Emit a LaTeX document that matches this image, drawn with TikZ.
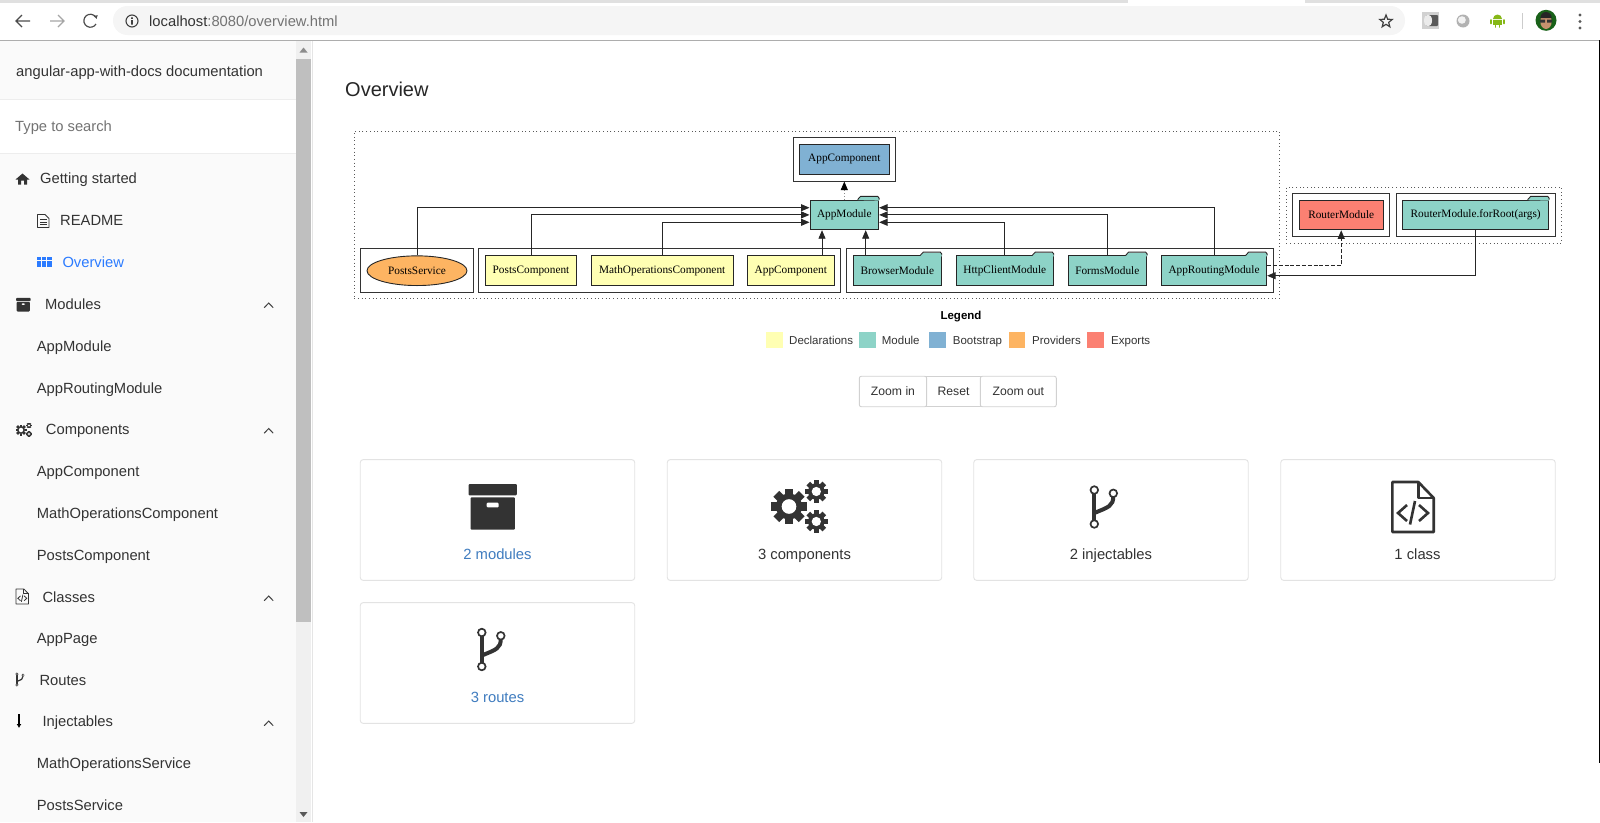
\documentclass[tikz,border=0pt]{standalone}
\usepackage{fontspec}
\usepackage{tikz}
\usetikzlibrary{arrows.meta,positioning,fit,shapes.geometric}
\setmainfont{Liberation Sans}
\newfontfamily\graphfont{Liberation Serif}
\definecolor{declcol}{HTML}{FFFFB3}
\definecolor{modcol}{HTML}{8DD3C7}
\definecolor{bootcol}{HTML}{80B1D3}
\definecolor{provcol}{HTML}{FDB462}
\definecolor{expcol}{HTML}{FB8072}
\definecolor{inkcol}{HTML}{333333}
\definecolor{linkcol}{HTML}{3F7CBF}
\definecolor{activecol}{HTML}{2B7BFF}
\definecolor{cardline}{HTML}{E3E3E3}
\definecolor{droidcol}{HTML}{86B817}
\definecolor{skincol}{HTML}{C8926E}
\tikzset{
	graphnode/.style={draw=black!85,line width=.9pt,inner sep=0pt,minimum height=29.7pt,font=\graphfont\fontsize{11.3}{13}\selectfont},
	declnode/.style={graphnode,fill=declcol},
	modnode/.style={graphnode,fill=modcol},
	cluster/.style={draw=black!80,line width=.9pt,inner xsep=6pt,inner ysep=6.6pt},
	outercluster/.style={draw=black!65,line width=.9pt,dash pattern=on 1pt off 2.7pt,inner xsep=6pt,inner ysep=5.6pt},
	swatch/.style={minimum size=16.5pt,inner sep=0pt},
	legendtext/.style={anchor=west,inner sep=0pt,text height=10.6pt,text depth=2pt,text=inkcol,font=\fontsize{11.5}{13}\selectfont},
	navitem/.style={anchor=west,inner sep=0pt,text height=13pt,text depth=2.6pt,text=inkcol,font=\fontsize{14.75}{17}\selectfont},
	zoombtn/.style={draw=black!18,line width=.9pt,minimum height=30.5pt,inner sep=0pt,text=inkcol,font=\fontsize{12.2}{14}\selectfont},
	card/.style={draw=cardline,line width=.9pt,rounded corners=3pt,minimum width=274.5pt,minimum height=120.8pt,inner sep=0pt},
	cardtext/.style={inner sep=0pt,text height=13pt,text depth=2.6pt,text=inkcol,font=\fontsize{14.8}{17}\selectfont},
	elbow/.style={to path={(\tikztostart) |- (\tikztotarget)}},
	sideways/.style={to path={(\tikztostart) -| (\tikztotarget)}},
	dashededge/.style={dash pattern=on 4pt off 1.8pt},
	dottededge/.style={dash pattern=on 1pt off 2pt,color=black!45,-{Triangle[length=8.5pt,width=7pt,black]}},
	boxicon/.pic={
		\fill[rounded corners=1pt] (-24.2,-23) rectangle (24.2,-11.7);
		\fill[rounded corners=1pt] (-22.2,-9.7) rectangle (22.2,22.7);
		\fill[white,rounded corners=1pt] (-6,-4.3) rectangle (6,.3);
	},
	gearicon/.pic={
		\foreach \a in {0,45,...,315}
			\fill[rotate=\a] (-2.5,-11) rectangle (2.5,-7);
		\fill circle (8);
		\fill[white] circle (4.5);
	},
	branchicon/.pic={
		\draw (-9.5,-15) -- (-9.5,15);
		\draw (9.5,-11) .. controls (9.5,-1) and (5,0) .. (-9.5,6);
		\draw[fill=white,line width=.65\pgflinewidth] (-9.5,-17) circle (3.8);
		\draw[fill=white,line width=.65\pgflinewidth] (9.5,-13.7) circle (3.8);
		\draw[fill=white,line width=.65\pgflinewidth] (-9.5,17) circle (3.8);
	},
	fileicon/.pic={
		\draw[line join=round] (-20.7,-25) -- (5.3,-25) -- (20.7,-9) -- (20.7,25) -- (-20.7,25) -- cycle;
		\draw[line join=round] (5.3,-25) -- (5.3,-9) -- (20.7,-9);
		\draw (-6,-2) -- (-15,6) -- (-6,14);
		\draw (6,-2) -- (15,6) -- (6,14);
		\draw (2,-6) -- (-3,17.5);
	},
	chevron/.pic={\draw[black!75,line width=1pt] (-4.5,2.7) -- (0,-2) -- (4.5,2.7);},
}
\begin{document}
\begin{tikzpicture}[x=1pt,y=-1pt,node distance=120pt,on grid,>={Triangle[length=8.5pt,width=7pt]}]
	\useasboundingbox (0,0) rectangle (1600,822);

	% browser bar
	\fill[white] (0,0) rectangle (1600,822);
	\fill[black!12] (0,0) rectangle (1128,2.5);
	\fill[black!12] (1305,0) rectangle (1600,2.5);
	\fill[black!4] (113,6) [rounded corners=14.5pt] rectangle (1405,35);
	\draw[black!32,line width=.9pt] (0,40.5) -- (1600,40.5);
	\draw[black,line width=1.4pt] (1599.3,40) -- (1599.3,763);
	\draw[black!70,line width=1.2pt] (30,21) -- (16,21) (22,15) -- (16,21) -- (22,27);
	\draw[black!35,line width=1.2pt] (50,21) -- (64,21) (58,15) -- (64,21) -- (58,27);
	\draw[black!70,line width=1.2pt,-{Latex[length=3.5pt,width=4.5pt]}] (96,24) arc (30:345:6.5);
	\draw[black!75,line width=1.1pt] (132,21) circle (6);
	\fill[black!75] (131.2,20) rectangle (132.8,24.5) (131.2,17.3) rectangle (132.8,18.8);
	\node[anchor=west,inner sep=0pt,font=\fontsize{14.75}{17}\selectfont] (urltext) at (149,21) {\textcolor{inkcol}{localhost}\textcolor{black!55}{:8080/overview.html}};
	\node[star,star points=5,star point ratio=2.3,draw=black!75,line width=1.2pt,inner sep=0pt,minimum size=13pt] (staricon) at (1386,21.5) {};
	\fill[black!18] (1422,12) rectangle (1439,29);
	\fill[black!65,rounded corners=1pt] (1426,15) rectangle (1438,26);
	\fill[black!8] (1428,20.5) ellipse (4 and 6);
	\fill[black!30] (1463,21) circle (6.5);
	\fill[black!5] (1462,20) circle (3.8);
	\fill[black!5] (1461,20) circle (3);
	\fill[droidcol] (1493,20) rectangle (1502,25);
	\fill[droidcol] (1493,19) arc (180:360:4.5) -- cycle;
	\draw[droidcol,line width=1.7pt,line cap=round] (1491.3,20) -- (1491.3,23.5) (1503.7,20) -- (1503.7,23.5) (1495.5,25) -- (1495.5,27) (1499.5,25) -- (1499.5,27);
	\draw[black!20,line width=.9pt] (1522.5,13) -- (1522.5,29);
	\fill[green!35!black!80!gray] (1546,20.3) circle (10.5);
	\fill[skincol] (1546,21.5) ellipse (5.7 and 7.5);
	\fill[black!85] (1540.3,18) arc (180:360:5.7 and 6) -- cycle;
	\fill[black!80] (1540,19.5) rectangle (1545,22.5) (1547,19.5) rectangle (1552,22.5);
	\foreach \y in {15,21.5,28}
		\fill[black!65] (1580,\y) circle (1.7);

	% sidebar
	\fill[black!2] (0,41) rectangle (311,822);
	\fill[white] (0,100) rectangle (296,153);
	\draw[black!7,line width=.9pt] (0,99.5) -- (296,99.5) (0,153) -- (296,153);
	\fill[black!6] (296,41) rectangle (311,822);
	\fill[black!25] (296.3,58.5) rectangle (310.7,622);
	\draw[black!10,line width=.9pt] (312,41) -- (312,822);
	\fill[black!45] (303.5,47.5) -- (299.5,52.5) -- (307.5,52.5) -- cycle;
	\fill[black!65] (303.5,817) -- (299.5,812) -- (307.5,812) -- cycle;
	\node[navitem] (apptitle) at (16,71) {angular-app-with-docs documentation};
	\node[navitem,text=black!55] (searchbox) at (15,126.5) {Type to search};
	\node[navitem] (started) at (40,178.6) {Getting started};
	\node[navitem] (readme) at (60,220.4) {README};
	\node[navitem,text=activecol] (overview) at (62.3,262.2) {Overview};
	\node[navitem] (modules) at (45,304) {Modules};
	\node[navitem] (navappmod) at (36.7,346) {AppModule};
	\node[navitem] (navrouting) at (36.7,388) {AppRoutingModule};
	\node[navitem] (components) at (45.7,429.6) {Components};
	\node[navitem] (navappcomp) at (36.7,471.4) {AppComponent};
	\node[navitem] (navmathcomp) at (36.7,513.2) {MathOperationsComponent};
	\node[navitem] (navpostscomp) at (36.7,555) {PostsComponent};
	\node[navitem] (classes) at (42.3,597) {Classes};
	\node[navitem] (navapppage) at (36.7,638) {AppPage};
	\node[navitem] (routes) at (39.3,680) {Routes};
	\node[navitem] (injectables) at (42.3,721.4) {Injectables};
	\node[navitem] (navmathserv) at (36.7,763.2) {MathOperationsService};
	\node[navitem] (navpostsserv) at (36.7,805) {PostsService};
	\foreach \y in {305,430.5,598,723}
		\pic at (268.7,\y) {chevron};

	% sidebar icons
	\fill[inkcol] (15.5,179.5) -- (22.5,173.5) -- (29.5,179.5) -- (27,179.5) -- (27,184.5) -- (24,184.5) -- (24,180.5) -- (21,180.5) -- (21,184.5) -- (18,184.5) -- (18,179.5) -- cycle;
	\draw[inkcol,line width=.8pt,line join=round] (37.5,214.5) -- (45,214.5) -- (49,218.5) -- (49,227.5) -- (37.5,227.5) -- cycle;
	\draw[inkcol,line width=.7pt] (40,219.5) -- (46.5,219.5) (40,222) -- (46.5,222) (40,224.5) -- (46.5,224.5);
	\foreach \i in {0,1,2}
		\foreach \j in {0,1,2}
			\fill[activecol] (37+\i*5.2,257+\j*3.6) rectangle ++(4.2,2.9);
	\pic[inkcol,scale=.3] at (23.3,304.7) {boxicon};
	\pic[inkcol,scale=.5] at (21,430) {gearicon};
	\pic[inkcol,scale=.25] at (29,425.5) {gearicon};
	\pic[inkcol,scale=.25] at (29,434) {gearicon};
	\pic[inkcol,scale=.3,line width=.8pt] at (22.3,596.5) {fileicon};
	\pic[inkcol,scale=.32,line width=1.2pt] at (20,679.5) {branchicon};
	\draw[black,line width=1.2pt,-{Latex[length=4pt,width=5pt]}] (19,714) -- (19,728);

	% page heading
	\node[anchor=west,inner sep=0pt,text=black!85,font=\fontsize{20}{24}\selectfont] (pagetitle) at (345,89) {Overview};

	% graph nodes
	\node[graphnode,fill=provcol,ellipse,minimum width=100pt] (postsservice) at (417,270.7) {PostsService};
	\node[declnode,minimum width=91.4pt] (postscomp) [right=114pt of postsservice] {PostsComponent};
	\node[declnode,minimum width=142.3pt] (mathcomp) [right=131.2pt of postscomp] {MathOperationsComponent};
	\node[declnode,minimum width=87pt] (appcomp) [right=128.6pt of mathcomp] {AppComponent};
	\node[modnode,minimum width=88pt] (browser) [right=106.5pt of appcomp] {BrowserModule};
	\node[modnode,minimum width=97pt] (httpclient) [right=107.5pt of browser] {HttpClientModule};
	\node[modnode,minimum width=78.7pt] (forms) [right=102.5pt of httpclient] {FormsModule};
	\node[modnode,minimum width=105.4pt] (approuting) [right=106.7pt of forms] {AppRoutingModule};
	\node[modnode,minimum width=68.7pt] (appmodule) at (844.3,214.9) {AppModule};
	\node[graphnode,fill=bootcol,minimum width=89.7pt] (bootcomp) [above=55.7pt of appmodule] {AppComponent};
	\node[graphnode,fill=expcol,minimum width=83.7pt] (routermod) at (1341.2,215) {RouterModule};
	\node[modnode,minimum width=146pt] (forroot) [right=134.5pt of routermod] {RouterModule.forRoot(args)};

	% folder tabs
	\foreach \n in {appmodule,browser,httpclient,forms,approuting,forroot} {
		\fill[modcol] ([xshift=-21.5pt,yshift=-.5pt]\n.north east) -- ++(3,-3) -- ++(17,0) -- ++(1.5,1.5) -- ++(0,2) -- cycle;
		\draw[black!85,line width=.9pt] ([xshift=-21.5pt]\n.north east) -- ++(3,-3.3) -- ++(17,0) -- ++(1.5,1.8) -- (\n.north east);
	}

	% clusters
	\node[cluster,fit=(postsservice)] (provcluster) {};
	\node[cluster,fit=(postscomp)(mathcomp)(appcomp)] (declcluster) {};
	\node[cluster,fit=(browser)(httpclient)(forms)(approuting)] (modcluster) {};
	\node[cluster,fit=(bootcomp)] (bootcluster) {};
	\node[cluster,fit=(routermod)] (expcluster) {};
	\node[cluster,fit=(forroot)] (rootcluster) {};
	\node[outercluster,fit=(provcluster)(modcluster)(bootcluster)] (appcluster) {};
	\node[outercluster,fit=(expcluster)(rootcluster)] (routercluster) {};

	% graph edges
	\path[->,color=black!85,line width=.9pt]

	(postsservice.north) edge [elbow] ([yshift=7.2pt]appmodule.west)
	(postscomp.north) edge [elbow] (appmodule.west)
	(mathcomp.north) edge [elbow] ([yshift=-7.4pt]appmodule.west)
	([xshift=31.2pt]appcomp.north) edge ([xshift=-22.3pt]appmodule.south)
	([xshift=-31.6pt]browser.north) edge ([xshift=21.4pt]appmodule.south)
	(httpclient.north) edge [elbow] ([yshift=-7.4pt]appmodule.east)
	(forms.north) edge [elbow] (appmodule.east)
	(approuting.north) edge [elbow] ([yshift=7.2pt]appmodule.east)
	(forroot.south) edge [elbow] ([yshift=-5pt]approuting.east)
	([yshift=5pt]approuting.east) edge [dashededge,sideways] (routermod.south)
	(appmodule.north) edge [dottededge] (bootcluster.south);

	% legend
	\node[font=\bfseries\fontsize{11.5}{13}\selectfont,text=black] (legendtitle) at (961,317) {Legend};
	\node[swatch,fill=declcol] (sdecl) at (774.5,340) {};
	\node[swatch,fill=modcol] (smod) [right=93pt of sdecl] {};
	\node[swatch,fill=bootcol] (sboot) [right=70pt of smod] {};
	\node[swatch,fill=provcol] (sprov) [right=79.5pt of sboot] {};
	\node[swatch,fill=expcol] (sexp) [right=78.5pt of sprov] {};
	\node[legendtext] (tdecl) at (789,340) {Declarations};
	\node[legendtext] (tmod) at (881.7,340) {Module};
	\node[legendtext] (tboot) at (952.7,340) {Bootstrap};
	\node[legendtext] (tprov) at (1032,340) {Providers};
	\node[legendtext] (texp) at (1111,340) {Exports};

	% zoom buttons
	\node[zoombtn,minimum width=67.4pt,rounded corners=2pt] (zoomin) at (893,391.5) {Zoom in};
	\node[zoombtn,minimum width=53.6pt] (zoomreset) [right=60.5pt of zoomin] {Reset};
	\node[zoombtn,minimum width=76pt,rounded corners=2pt] (zoomout) [right=64.8pt of zoomreset] {Zoom out};

	% cards
	\node[card] (cardmod) at (497.5,520) {};
	\node[card] (cardcomp) [right=307pt of cardmod] {};
	\node[card] (cardinj) [right=306.5pt of cardcomp] {};
	\node[card] (cardclass) [right=307pt of cardinj] {};
	\node[card] (cardroute) [below=143pt of cardmod] {};
	\node[cardtext,text=linkcol] (txtmod) at (497.5,554) {2 modules};
	\node[cardtext] (txtcomp) at (804.5,554) {3 components};
	\node[cardtext] (txtinj) at (1111,554) {2 injectables};
	\node[cardtext] (txtclass) at (1417.5,554) {1 class};
	\node[cardtext,text=linkcol] (txtroute) at (497.5,697) {3 routes};
	\pic[inkcol] at (492.7,507) {boxicon};
	\pic[inkcol,scale=1.63] at (789,506.5) {gearicon};
	\pic[inkcol,scale=1.03] at (816.3,491.5) {gearicon};
	\pic[inkcol,scale=1.03] at (816.3,521.5) {gearicon};
	\pic[inkcol,line width=4pt] at (1103.8,507) {branchicon};
	\pic[inkcol,line width=4pt] at (491.3,649.5) {branchicon};
	\pic[inkcol,line width=2.6pt] at (1413,507) {fileicon};
\end{tikzpicture}
\end{document}
